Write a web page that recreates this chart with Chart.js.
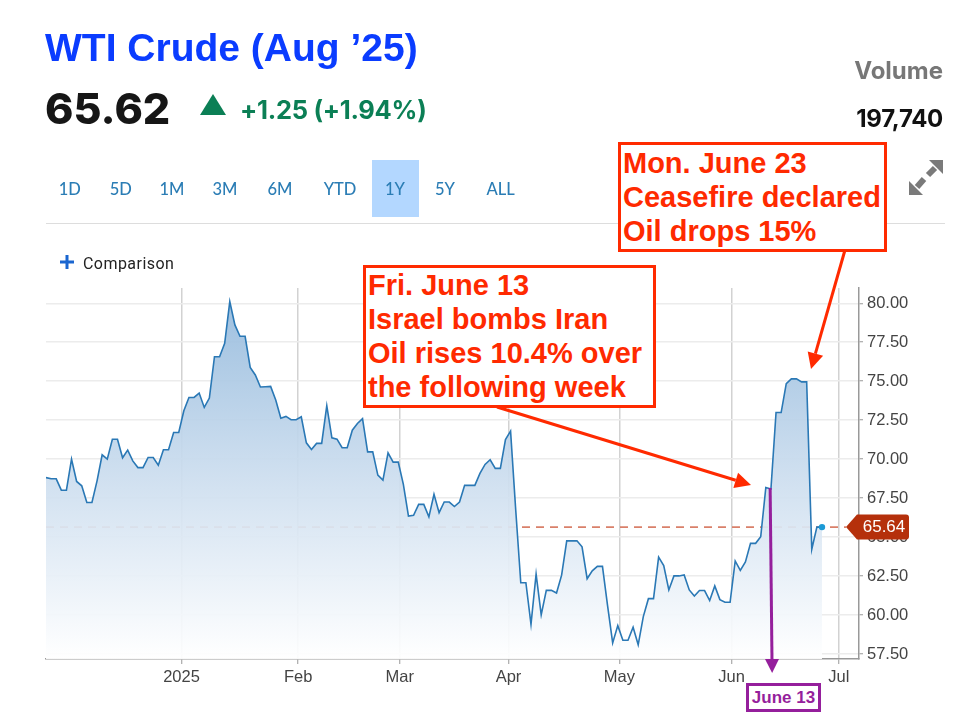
<!DOCTYPE html>
<html><head><meta charset="utf-8">
<script src="https://cdn.jsdelivr.net/npm/chart.js@4"></script>
<style>
html,body{margin:0;padding:0;background:#fff;width:977px;height:725px;overflow:hidden}
#wrap{position:relative;width:977px;height:725px}
canvas{position:absolute;left:0;top:0}
.t{position:absolute;white-space:nowrap;line-height:1}
.rng{position:absolute;top:180px;font:500 16.5px Lato,sans-serif;line-height:18px;color:#2b7db5;transform:translateX(-50%);white-space:nowrap}
.box{position:absolute;box-sizing:border-box;background:#fff;border:3px solid #ff2a00;color:#ff2a00;font:bold 29px "Liberation Sans",Arial,sans-serif;line-height:34px;white-space:nowrap}
</style></head><body>
<div id="wrap">
<canvas id="c" width="977" height="725"></canvas>
<div class="t" style="left:45px;top:26px;font:bold 39px 'Liberation Sans',Arial,sans-serif;color:#0a3cff">WTI Crude (Aug ’25)</div>
<div class="t" style="left:45px;top:82px;font:800 43px Inter,sans-serif;color:#161616">65.62</div>
<svg style="position:absolute;left:200px;top:94px" width="26" height="22"><polygon points="13,0 26,21 0,21" fill="#0b7f55"/></svg>
<div class="t" style="left:240px;top:94px;font:700 25.5px Inter,sans-serif;letter-spacing:-.3px;color:#0b7f55">+1.25 (+1.94%)</div>
<div class="t" style="right:34px;top:56px;font:700 24px Inter,sans-serif;color:#777">Volume</div>
<div class="t" style="right:34px;top:104px;font:700 24px Inter,sans-serif;letter-spacing:-.3px;color:#111">197,740</div>
<div style="position:absolute;left:372px;top:160px;width:47px;height:57px;background:#b3d7ff"></div>
<div id="ranges"></div>
<div style="position:absolute;left:46px;top:223px;width:899px;height:1px;background:#ddd"></div>
<svg style="position:absolute;left:60px;top:255px" width="14" height="14"><rect x="0" y="5.5" width="14" height="3" fill="#1a66d0"/><rect x="5.5" y="0" width="3" height="14" fill="#1a66d0"/></svg>
<div class="t" style="left:83px;top:254px;font:400 16px Roboto,sans-serif;letter-spacing:.45px;color:#222">Comparison</div>
<svg style="position:absolute;left:909px;top:160px" width="35" height="36"><g fill="#7a7a7a"><polygon points="34,0 34,14 20,0"/><polygon points="0,35 0,21 14,35"/></g><g stroke="#7a7a7a" stroke-width="6"><line x1="26" y1="8" x2="19" y2="15"/><line x1="15" y1="19" x2="8" y2="27"/></g></svg>
<div class="box" style="left:363px;top:265px;width:293px;height:143px;padding:0 0 0 2px">Fri. June 13<br>Israel bombs Iran<br>Oil rises 10.4% over<br>the following week</div>
<div class="box" style="left:618px;top:142px;width:269px;height:110px;padding:1px 0 0 2px">Mon. June 23<br>Ceasefire declared<br>Oil drops 15%</div>
<div class="box" style="left:746px;top:683px;width:75px;height:29px;border-color:#951f9c;color:#951f9c;font-size:17px;line-height:23px;text-align:center">June 13</div>
</div>
<script>
const prices=[68.82,68.74,68.74,68.01,68.01,70.0,68.57,68.29,67.22,67.22,
68.61,70.28,70.0,71.28,71.28,70.09,70.58,69.89,69.46,69.46,
70.11,70.11,69.61,70.6,70.6,71.71,71.71,73.1,73.96,73.96,
74.24,73.32,73.92,76.57,76.57,77.43,80.11,78.61,77.88,77.88,
75.89,75.4,74.63,74.65,74.67,73.79,72.63,72.74,72.53,72.53,
72.72,71.05,70.62,71.01,71.01,73.43,71.37,71.28,70.73,70.73,
71.86,72.29,72.6,70.47,70.47,68.98,68.66,70.41,69.81,69.81,
68.38,66.35,66.4,67.1,67.1,66.3,67.75,66.57,67.25,67.25,
66.96,67.25,68.32,68.32,68.32,69.09,69.66,69.96,69.41,69.41,
71.26,71.8,66.79,62.07,62.07,59.41,62.63,60.01,61.58,61.58,
61.41,62.56,64.76,64.76,64.76,64.38,62.33,62.84,63.12,63.12,
60.6,58.21,59.32,58.38,58.38,59.22,58.09,59.9,61.05,61.05,
63.71,63.17,61.61,62.51,62.51,62.57,61.61,61.22,61.57,61.57,
60.93,61.87,60.99,60.82,60.82,63.47,62.87,63.41,64.6,64.6,
65.03,68.18,68.09,72.99,72.99,74.85,75.15,75.15,74.96,74.96,
64.22,65.64,65.64];
const monthLabels=["2025","Feb","Mar","Apr","May","Jun","Jul"];
const monthPositions=[26.54,49.4,69.3,90.6,112.3,134.3,155.3];
const yTicks=[57.5,60,62.5,65,67.5,70,72.5,75,77.5,80];
const rangeLabels=["1D","5D","1M","3M","6M","YTD","1Y","5Y","ALL"];
const rangeCenters=[69.7,120.7,172,225,280,340,395,445,500.7];
const lastQuote=65.64;
const eventIndex=142;
const refLineEnd=156.7;
const xMax=159.25, yMin=57.18, yMax=80.98;

const rc=document.getElementById('ranges');
rangeLabels.forEach((l,i)=>{const d=document.createElement('div');d.className='rng';d.textContent=l;d.style.left=rangeCenters[i]+'px';rc.appendChild(d);});

function arrow(ctx,x0,y0,x1,y1,color,w,hl,hw){
  const a=Math.atan2(y1-y0,x1-x0),c=Math.cos(a),s=Math.sin(a);
  ctx.save();ctx.strokeStyle=color;ctx.fillStyle=color;ctx.lineWidth=w;
  ctx.beginPath();ctx.moveTo(x0,y0);ctx.lineTo(x1-c*hl,y1-s*hl);ctx.stroke();
  ctx.beginPath();ctx.moveTo(x1,y1);
  ctx.lineTo(x1-c*hl-s*hw/2,y1-s*hl+c*hw/2);
  ctx.lineTo(x1-c*hl+s*hw/2,y1-s*hl-c*hw/2);ctx.closePath();ctx.fill();ctx.restore();
}
const overlay={id:'overlay',afterDraw(ch){
  const ctx=ch.ctx,X=ch.scales.x,Y=ch.scales.y;
  const ty=Y.getPixelForValue(lastQuote);
  ctx.save();ctx.fillStyle='#b5300b';
  const l=857,r=909,t=ty-12.5,b=ty+12.5,rad=3;
  ctx.beginPath();ctx.moveTo(846,ty);ctx.lineTo(l,t);ctx.lineTo(r-rad,t);ctx.quadraticCurveTo(r,t,r,t+rad);
  ctx.lineTo(r,b-rad);ctx.quadraticCurveTo(r,b,r-rad,b);ctx.lineTo(l,b);ctx.closePath();ctx.fill();
  ctx.fillStyle='#fff';ctx.font='17px "Liberation Sans",Arial,sans-serif';ctx.textAlign='center';ctx.textBaseline='middle';
  ctx.fillText(lastQuote.toFixed(2),884,ty+0.5);ctx.restore();
  arrow(ctx,497,407,751,485,'#ff2a00',3,16,16);
  arrow(ctx,845,250,811,369,'#ff2a00',3,16,16);
  const ex=X.getPixelForValue(eventIndex),ey=Y.getPixelForValue(prices[eventIndex]);
  arrow(ctx,ex-0.8,ey-1,ex+1.2,673,'#951f9c',3,14,14);
}};
new Chart(document.getElementById('c'),{
  type:'line',
  data:{datasets:[
    {data:prices.map((v,i)=>({x:i,y:v})),order:1,borderColor:'#2a78b5',borderWidth:1.6,tension:0,fill:'start',
     backgroundColor(ctx){const a=ctx.chart.chartArea;if(!a)return 'transparent';
       const g=ctx.chart.ctx.createLinearGradient(0,300,0,a.bottom);
       g.addColorStop(0,'rgba(150,187,221,0.93)');g.addColorStop(0.5,'rgba(205,222,239,0.93)');g.addColorStop(1,'rgba(255,255,255,0.93)');return g;},
     pointRadius:c=>c.dataIndex===prices.length-1?3.2:0,pointBackgroundColor:'#1b9ad6',pointBorderWidth:0,pointHoverRadius:0},
    {data:[{x:0,y:lastQuote},{x:refLineEnd,y:lastQuote}],order:2,borderColor:'#d9806a',borderWidth:1.6,borderDash:[8,6],pointRadius:0,fill:false}
  ]},
  options:{responsive:false,animation:false,devicePixelRatio:1,events:[],
    layout:{padding:{left:46,top:288,right:0,bottom:0}},
    plugins:{legend:{display:false},tooltip:{enabled:false}},
    scales:{
      x:{type:'linear',min:0,max:xMax,
        afterBuildTicks(s){s.ticks=monthPositions.map(v=>({value:v}));},
        afterFit(s){s.height=66;},
        border:{display:true,color:'#999',width:1.5},
        grid:{color:'#d2d2d2',lineWidth:1.5,tickLength:5,tickColor:'#999',tickWidth:1},
        ticks:{autoSkip:false,maxRotation:0,padding:4,color:'#444',font:{family:'"Liberation Sans",Arial,sans-serif',size:16.5},
          callback(v){return monthLabels[monthPositions.indexOf(v)];}}},
      y:{type:'linear',position:'right',min:yMin,max:yMax,
        afterBuildTicks(s){s.ticks=yTicks.map(v=>({value:v}));},
        afterFit(s){s.width=118;},
        border:{display:true,color:'#999',width:1.5},
        grid:{color:'#ececec',lineWidth:1.5,tickLength:4,tickColor:'#999',tickWidth:1},
        ticks:{autoSkip:false,padding:4,color:'#444',font:{family:'"Liberation Sans",Arial,sans-serif',size:16.5},
          callback(v){return v.toFixed(2);}}}
    }},
  plugins:[overlay]
});
</script>
</body></html>
